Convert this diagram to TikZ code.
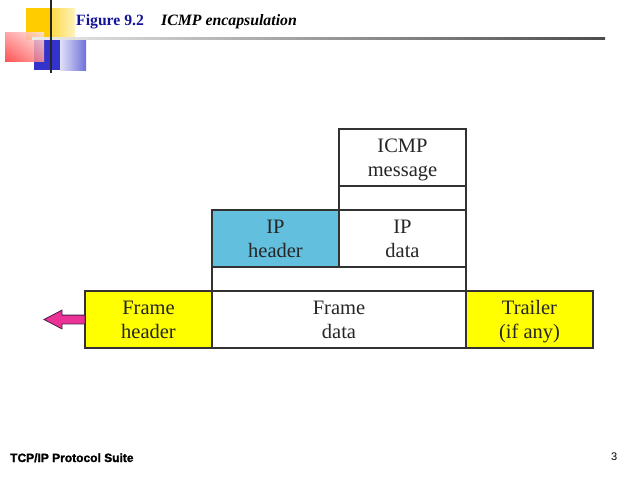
\documentclass[tikz,border=0pt]{standalone}
\usepackage{fontspec}
\setmainfont{Liberation Serif}
\newfontfamily\footfont{Liberation Sans}
\newfontfamily\suitefont[FakeBold=1.6]{Liberation Sans Bold}
\usetikzlibrary{
  positioning,
  shadings,
  shapes.arrows
}
\definecolor{frameyellow}{RGB}{255,255,0}
\definecolor{ipblue}{RGB}{98,192,222}
\definecolor{boxline}{RGB}{50,50,50}
\definecolor{arrowpink}{RGB}{236,50,150}
\definecolor{arrowline}{RGB}{70,30,70}
\definecolor{titleblue}{RGB}{20,20,150}
\definecolor{decoyellow}{RGB}{255,204,0}
\definecolor{decoblue}{RGB}{51,51,204}
\newcommand{\cellstrut}{\rule[-4.7pt]{0pt}{24pt}}
\tikzset{
  cell/.style={draw=boxline,line width=1.2pt,minimum height=57pt,inner sep=0pt,outer sep=0pt,
    align=center,text=black!85,font=\fontsize{20.5}{24}\selectfont},
  halfcell/.style={cell,minimum width=127pt},
  spacer/.style={draw=boxline,line width=1.2pt,minimum height=24pt,inner sep=0pt,outer sep=0pt}
}
\begin{document}
\begin{tikzpicture}[x=1pt,y=-1pt]
    \useasboundingbox (0,0) rectangle (638,479);
    %decoration
    \fill[decoyellow] (26,8) rectangle (52,40);
    \shade[left color=decoyellow!70!white,right color=decoyellow!25!white] (52,8) rectangle (75,40);
    \fill[decoblue] (34,40) rectangle (60,70);
    \shade[left color=decoblue!15!white,right color=decoblue!70!white] (60,40) rectangle (86,70);
    \shade[lower left=red!80!white,upper right=red!10!white,upper left=red!40!white,lower right=red!40!white,opacity=0.85] (5,32) rectangle (44,61);
    \shade[left color=black!8,middle color=black!30,right color=black!70] (32,37.8) rectangle (605,39.2);
    \draw[black!85,line width=1.4pt] (51,0) -- (51,73);
    %title
    \node[anchor=base west,inner sep=0pt,text=titleblue,font=\fontsize{15.7}{18}\selectfont\bfseries] (figno) at (76,26) {Figure 9.2};
    \node[anchor=base west,inner sep=0pt,font=\fontsize{15.8}{18}\selectfont\bfseries\itshape] (figname) at (161,26) {ICMP encapsulation};
    %frame
    \node[cell,fill=frameyellow,minimum width=127pt] (frameheader) at (148.5,319.5) {Frame\cellstrut\\header\cellstrut};
    \node[cell,minimum width=254pt,right=0pt of frameheader] (framedata) {Frame\cellstrut\\data\cellstrut};
    \node[cell,fill=frameyellow,minimum width=127pt,right=0pt of framedata] (trailer) {Trailer\cellstrut\\(if any)\cellstrut};
    %ip
    \node[spacer,minimum width=254pt,above=0pt of framedata] (ipgap) {};
    \node[halfcell,fill=ipblue,above=0pt of ipgap.north west,anchor=south west] (ipheader) {IP\cellstrut\\header\cellstrut};
    \node[halfcell,right=0pt of ipheader] (ipdata) {IP\cellstrut\\data\cellstrut};
    %icmp
    \node[spacer,minimum width=127pt,above=0pt of ipdata] (icmpgap) {};
    \node[halfcell,above=0pt of icmpgap] (icmpmsg) {ICMP\cellstrut\\message\cellstrut};
    %arrow
    \node[single arrow,draw=arrowline,fill=arrowpink,line width=0.8pt,shape border rotate=180,
      inner sep=4pt,outer sep=0pt,minimum height=41pt,single arrow head extend=5pt,
      single arrow tip angle=55,left=0pt of frameheader] (outarrow) {};
    %footer
    \node[anchor=base west,inner sep=0pt,font=\suitefont\fontsize{12}{14}\selectfont] (suite) at (10,462) {TCP/IP Protocol Suite};
    \node[anchor=base west,inner sep=0pt,font=\footfont\fontsize{11}{14}\selectfont] (pageno) at (611,460) {3};
\end{tikzpicture}
\end{document}
